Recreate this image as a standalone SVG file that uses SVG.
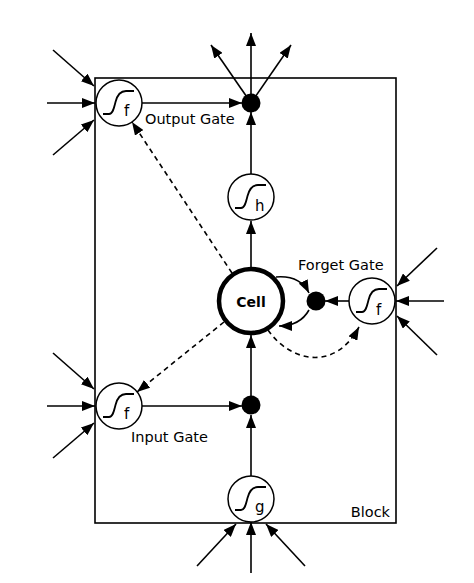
<svg xmlns="http://www.w3.org/2000/svg" width="474" height="583" viewBox="0 0 474 583">
<style>
.ln{stroke:#000;stroke-width:1.6;fill:none}
.ar{marker-end:url(#ah)}
.ds{stroke-dasharray:5,4}
.gate{fill:#fff;stroke:#000;stroke-width:1.5}
.sig{fill:none;stroke:#000;stroke-width:1.8}
.dot{fill:#000}
.t{font-family:"DejaVu Sans",sans-serif;font-size:14.5px;fill:#000}
.sub{font-family:"DejaVu Sans",sans-serif;font-size:15px;fill:#000}
</style>
<defs>
<marker id="ah" markerUnits="userSpaceOnUse" markerWidth="14" markerHeight="10" refX="13" refY="5" orient="auto">
<path d="M0,0 L13,5 L0,10 z" fill="#000"/>
</marker>
<path id="sg" d="M-16,11 H-10 C-6,11 -5,5 -3.5,-1 C-2,-7 1,-12 7,-12 H15"/>
</defs>
<rect x="95" y="78" width="301" height="445" fill="none" stroke="#000" stroke-width="1.6"/>
<g id="connectors">
<line class="ln ar" x1="53" y1="50" x2="94" y2="86"/>
<line class="ln ar" x1="47" y1="103" x2="95" y2="103"/>
<line class="ln ar" x1="53" y1="155" x2="94" y2="120"/>
<line class="ln ar" x1="53" y1="353" x2="94" y2="389"/>
<line class="ln ar" x1="47" y1="406" x2="95" y2="406"/>
<line class="ln ar" x1="53" y1="458" x2="94" y2="423"/>
<line class="ln ar" x1="437" y1="248" x2="397" y2="286"/>
<line class="ln ar" x1="444" y1="301" x2="396" y2="301"/>
<line class="ln ar" x1="437" y1="355" x2="397" y2="316"/>
<line class="ln ar" x1="197" y1="566" x2="236" y2="524"/>
<line class="ln ar" x1="251" y1="573" x2="251" y2="522"/>
<line class="ln ar" x1="305" y1="566" x2="266" y2="524"/>
<line class="ln ar" x1="251" y1="103" x2="211" y2="45"/>
<line class="ln ar" x1="251" y1="103" x2="251" y2="33"/>
<line class="ln ar" x1="251" y1="103" x2="291" y2="45"/>
<line class="ln ar" x1="142" y1="103" x2="242" y2="103"/>
<line class="ln ar" x1="142" y1="406" x2="242" y2="406"/>
<line class="ln ar" x1="349" y1="301" x2="325" y2="301"/>
<line class="ln ar" x1="251" y1="174" x2="251" y2="112"/>
<line class="ln ar" x1="251" y1="267" x2="251" y2="221"/>
<line class="ln ar" x1="251" y1="396" x2="251" y2="335"/>
<line class="ln ar" x1="251" y1="476" x2="251" y2="415"/>
<path class="ln ar" d="M276,277 Q300,275 309,293"/>
<path class="ln ar" d="M309,310 Q300,326 279,326"/>
<path class="ln ar ds" d="M268,330 C290,362 335,372 359,327"/>
<line class="ln ar ds" x1="232" y1="273" x2="132" y2="122"/>
<line class="ln ar ds" x1="224" y1="322" x2="137" y2="392"/>
</g>
<g id="output_gate">
<circle class="gate" cx="119" cy="103" r="23"/>
<use href="#sg" class="sig" x="119" y="103"/>
<text class="sub" x="124" y="116">f</text>
<text class="t" x="145" y="124">Output Gate</text>
</g>
<g id="output_mult"><circle class="dot" cx="251" cy="103" r="9.5"/></g>
<g id="h_squash">
<circle class="gate" cx="251" cy="197" r="23"/>
<use href="#sg" class="sig" x="251" y="197"/>
<text class="sub" x="255" y="211">h</text>
</g>
<g id="cell">
<circle cx="251" cy="301" r="32" fill="#fff" stroke="#000" stroke-width="4.5"/>
<text x="251" y="307" text-anchor="middle" font-family="DejaVu Sans,sans-serif" font-weight="bold" font-size="14">Cell</text>
</g>
<g id="forget_mult"><circle class="dot" cx="316" cy="301" r="9.5"/></g>
<g id="forget_gate">
<circle class="gate" cx="372" cy="301" r="23"/>
<use href="#sg" class="sig" x="372" y="301"/>
<text class="sub" x="376" y="315">f</text>
<text class="t" x="298" y="270">Forget Gate</text>
</g>
<g id="input_gate">
<circle class="gate" cx="119" cy="406" r="23"/>
<use href="#sg" class="sig" x="119" y="406"/>
<text class="sub" x="124" y="419">f</text>
<text class="t" x="131" y="442">Input Gate</text>
</g>
<g id="input_mult"><circle class="dot" cx="251" cy="405" r="9.5"/></g>
<g id="g_squash">
<circle class="gate" cx="251" cy="499" r="23"/>
<use href="#sg" class="sig" x="251" y="499"/>
<text class="sub" x="255" y="512">g</text>
</g>
<g id="block"><text class="t" x="390" y="517" text-anchor="end">Block</text></g>
</svg>
